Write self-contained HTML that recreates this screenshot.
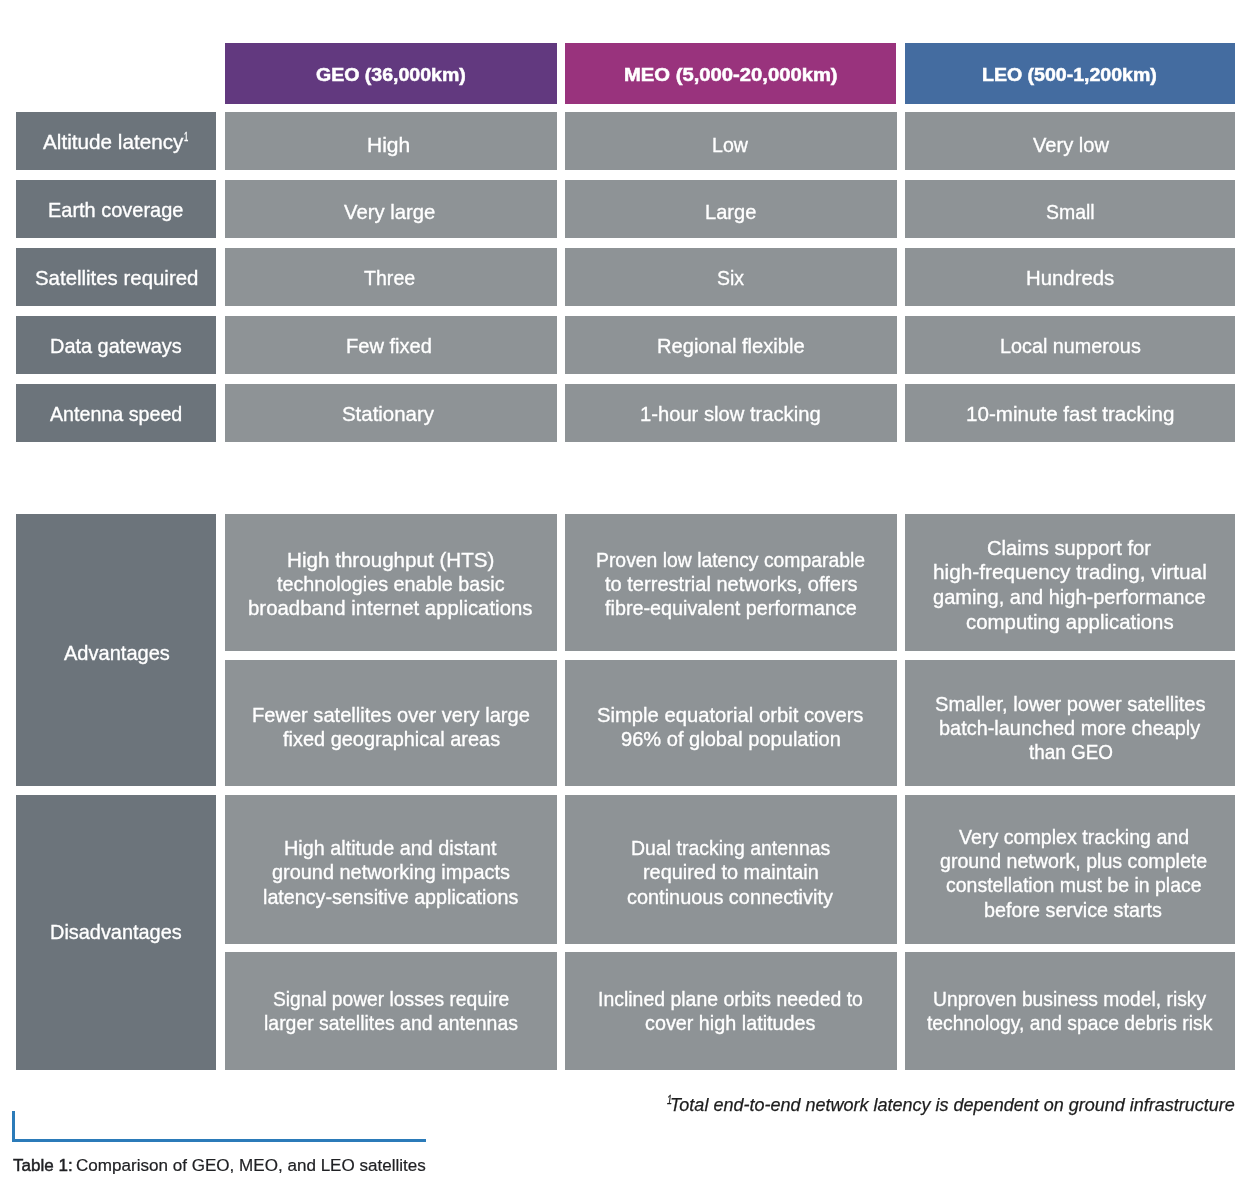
<!DOCTYPE html>
<html lang="en">
<head>
<meta charset="utf-8">
<title>Table 1: Comparison of GEO, MEO, and LEO satellites</title>
<style>
html,body{margin:0;padding:0;background:#fff;}
body{width:1258px;height:1188px;position:relative;overflow:hidden;font-family:"Liberation Sans",Arial,Helvetica,sans-serif;color:#fff;}
.box{position:absolute;}
.hdr.geo{background:#62397f;}
.hdr.meo{background:#99337d;}
.hdr.leo{background:#446ca0;}
.lab{background:#6c747b;}
.cell{background:#8e9396;}
.cell .t,.lab .t{-webkit-text-stroke:0.35px #fff;}
.hdr .t{-webkit-text-stroke:0.5px #fff;}
.t{position:absolute;white-space:nowrap;transform-origin:0 0;display:block;}
#rule{position:absolute;left:12px;top:1111px;width:411px;height:28px;border-left:3px solid #2b7bb9;border-bottom:3px solid #2b7bb9;}
</style>
</head>
<body>

<div class="box hdr geo" id="h-geo" style="left:225px;top:43px;width:332px;height:61px">
  <span class="t" style="left:91.39px;top:21.50px;font-size:17.5px;line-height:21.0px;transform:scaleX(1.1161);font-weight:700;">GEO (36,000km)</span>
</div>
<div class="box hdr meo" id="h-meo" style="left:565px;top:43px;width:331.2px;height:61px">
  <span class="t" style="left:58.94px;top:21.50px;font-size:17.5px;line-height:21.0px;transform:scaleX(1.1557);font-weight:700;">MEO (5,000-20,000km)</span>
</div>
<div class="box hdr leo" id="h-leo" style="left:905px;top:43px;width:330px;height:61px">
  <span class="t" style="left:77.38px;top:21.50px;font-size:17.5px;line-height:21.0px;transform:scaleX(1.1164);font-weight:700;">LEO (500-1,200km)</span>
</div>
<div class="box lab" id="r1-lab" style="left:16px;top:112px;width:200px;height:58px">
  <span class="t" style="left:27.30px;top:16.90px;font-size:21px;line-height:25.2px;transform:scaleX(0.9858);">Altitude latency</span>
  <span class="t" style="left:168.22px;top:16.80px;font-size:13px;line-height:15.6px;transform:scaleX(0.5942);">1</span>
</div>
<div class="box cell" id="r1-geo" style="left:225px;top:112px;width:332px;height:58px">
  <span class="t" style="left:142.16px;top:19.50px;font-size:21px;line-height:25.2px;transform:scaleX(1.0008);">High</span>
</div>
<div class="box cell" id="r1-meo" style="left:565px;top:112px;width:331.5px;height:58px">
  <span class="t" style="left:146.77px;top:19.50px;font-size:21px;line-height:25.2px;transform:scaleX(0.9316);">Low</span>
</div>
<div class="box cell" id="r1-leo" style="left:905px;top:112px;width:330px;height:58px">
  <span class="t" style="left:127.50px;top:19.50px;font-size:21px;line-height:25.2px;transform:scaleX(0.9570);">Very low</span>
</div>
<div class="box lab" id="r2-lab" style="left:16px;top:180px;width:200px;height:58px">
  <span class="t" style="left:31.94px;top:16.50px;font-size:21px;line-height:25.2px;transform:scaleX(0.9505);">Earth coverage</span>
</div>
<div class="box cell" id="r2-geo" style="left:225px;top:180px;width:332px;height:58px">
  <span class="t" style="left:118.80px;top:19.40px;font-size:21px;line-height:25.2px;transform:scaleX(0.9658);">Very large</span>
</div>
<div class="box cell" id="r2-meo" style="left:565px;top:180px;width:331.5px;height:58px">
  <span class="t" style="left:140.13px;top:19.40px;font-size:21px;line-height:25.2px;transform:scaleX(0.9547);">Large</span>
</div>
<div class="box cell" id="r2-leo" style="left:905px;top:180px;width:330px;height:58px">
  <span class="t" style="left:141.09px;top:19.40px;font-size:21px;line-height:25.2px;transform:scaleX(0.9253);">Small</span>
</div>
<div class="box lab" id="r3-lab" style="left:16px;top:248px;width:200px;height:58px">
  <span class="t" style="left:18.66px;top:17.30px;font-size:21px;line-height:25.2px;transform:scaleX(0.9720);">Satellites required</span>
</div>
<div class="box cell" id="r3-geo" style="left:225px;top:248px;width:332px;height:58px">
  <span class="t" style="left:139.09px;top:17.30px;font-size:21px;line-height:25.2px;transform:scaleX(0.9333);">Three</span>
</div>
<div class="box cell" id="r3-meo" style="left:565px;top:248px;width:331.5px;height:58px">
  <span class="t" style="left:151.89px;top:17.30px;font-size:21px;line-height:25.2px;transform:scaleX(0.9258);">Six</span>
</div>
<div class="box cell" id="r3-leo" style="left:905px;top:248px;width:330px;height:58px">
  <span class="t" style="left:120.91px;top:17.30px;font-size:21px;line-height:25.2px;transform:scaleX(0.9689);">Hundreds</span>
</div>
<div class="box lab" id="r4-lab" style="left:16px;top:316px;width:200px;height:58px">
  <span class="t" style="left:34.24px;top:17.20px;font-size:21px;line-height:25.2px;transform:scaleX(0.9487);">Data gateways</span>
</div>
<div class="box cell" id="r4-geo" style="left:225px;top:316px;width:332px;height:58px">
  <span class="t" style="left:121.13px;top:17.20px;font-size:21px;line-height:25.2px;transform:scaleX(0.9558);">Few fixed</span>
</div>
<div class="box cell" id="r4-meo" style="left:565px;top:316px;width:331.5px;height:58px">
  <span class="t" style="left:92.13px;top:17.20px;font-size:21px;line-height:25.2px;transform:scaleX(0.9578);">Regional flexible</span>
</div>
<div class="box cell" id="r4-leo" style="left:905px;top:316px;width:330px;height:58px">
  <span class="t" style="left:94.75px;top:17.20px;font-size:21px;line-height:25.2px;transform:scaleX(0.9421);">Local numerous</span>
</div>
<div class="box lab" id="r5-lab" style="left:16px;top:384px;width:200px;height:58px">
  <span class="t" style="left:34.40px;top:16.80px;font-size:21px;line-height:25.2px;transform:scaleX(0.9364);">Antenna speed</span>
</div>
<div class="box cell" id="r5-geo" style="left:225px;top:384px;width:332px;height:58px">
  <span class="t" style="left:117.36px;top:16.80px;font-size:21px;line-height:25.2px;transform:scaleX(0.9724);">Stationary</span>
</div>
<div class="box cell" id="r5-meo" style="left:565px;top:384px;width:331.5px;height:58px">
  <span class="t" style="left:75.24px;top:16.80px;font-size:21px;line-height:25.2px;transform:scaleX(0.9611);">1-hour slow tracking</span>
</div>
<div class="box cell" id="r5-leo" style="left:905px;top:384px;width:330px;height:58px">
  <span class="t" style="left:60.71px;top:16.80px;font-size:21px;line-height:25.2px;transform:scaleX(0.9808);">10-minute fast tracking</span>
</div>
<div class="box lab" id="adv-lab" style="left:16px;top:514px;width:200px;height:272px">
  <span class="t" style="left:47.70px;top:126.40px;font-size:21px;line-height:25.2px;transform:scaleX(0.9541);">Advantages</span>
</div>
<div class="box lab" id="dis-lab" style="left:16px;top:795px;width:200px;height:275px">
  <span class="t" style="left:34.24px;top:123.60px;font-size:21px;line-height:25.2px;transform:scaleX(0.9479);">Disadvantages</span>
</div>
<div class="box cell" id="a1-geo" style="left:225px;top:514px;width:332px;height:137px">
  <span class="t" style="left:62.29px;top:32.70px;font-size:21px;line-height:25.2px;transform:scaleX(0.9821);">High throughput (HTS)</span>
  <span class="t" style="left:52.00px;top:56.85px;font-size:21px;line-height:25.2px;transform:scaleX(0.9414);">technologies enable basic</span>
  <span class="t" style="left:23.03px;top:81.00px;font-size:21px;line-height:25.2px;transform:scaleX(0.9709);">broadband internet applications</span>
</div>
<div class="box cell" id="a1-meo" style="left:565px;top:514px;width:331.5px;height:137px">
  <span class="t" style="left:30.69px;top:32.70px;font-size:21px;line-height:25.2px;transform:scaleX(0.9221);">Proven low latency comparable</span>
  <span class="t" style="left:39.60px;top:56.85px;font-size:21px;line-height:25.2px;transform:scaleX(0.9550);">to terrestrial networks, offers</span>
  <span class="t" style="left:40.10px;top:81.00px;font-size:21px;line-height:25.2px;transform:scaleX(0.9420);">fibre-equivalent performance</span>
</div>
<div class="box cell" id="a1-leo" style="left:905px;top:514px;width:330px;height:137px">
  <span class="t" style="left:82.05px;top:20.70px;font-size:21px;line-height:25.2px;transform:scaleX(0.9628);">Claims support for</span>
  <span class="t" style="left:27.70px;top:45.40px;font-size:21px;line-height:25.2px;transform:scaleX(0.9896);">high-frequency trading, virtual</span>
  <span class="t" style="left:28.37px;top:70.10px;font-size:21px;line-height:25.2px;transform:scaleX(0.9529);">gaming, and high-performance</span>
  <span class="t" style="left:60.86px;top:94.80px;font-size:21px;line-height:25.2px;transform:scaleX(0.9721);">computing applications</span>
</div>
<div class="box cell" id="a2-geo" style="left:225px;top:660px;width:332px;height:126px">
  <span class="t" style="left:27.23px;top:41.70px;font-size:21px;line-height:25.2px;transform:scaleX(0.9562);">Fewer satellites over very large</span>
  <span class="t" style="left:58.00px;top:65.80px;font-size:21px;line-height:25.2px;transform:scaleX(0.9489);">fixed geographical areas</span>
</div>
<div class="box cell" id="a2-meo" style="left:565px;top:660px;width:331.5px;height:126px">
  <span class="t" style="left:32.37px;top:41.70px;font-size:21px;line-height:25.2px;transform:scaleX(0.9633);">Simple equatorial orbit covers</span>
  <span class="t" style="left:55.76px;top:65.80px;font-size:21px;line-height:25.2px;transform:scaleX(0.9559);">96% of global population</span>
</div>
<div class="box cell" id="a2-leo" style="left:905px;top:660px;width:330px;height:126px">
  <span class="t" style="left:29.77px;top:31.00px;font-size:21px;line-height:25.2px;transform:scaleX(0.9576);">Smaller, lower power satellites</span>
  <span class="t" style="left:33.56px;top:55.15px;font-size:21px;line-height:25.2px;transform:scaleX(0.9482);">batch-launched more cheaply</span>
  <span class="t" style="left:123.50px;top:79.30px;font-size:21px;line-height:25.2px;transform:scaleX(0.8998);">than GEO</span>
</div>
<div class="box cell" id="d1-geo" style="left:225px;top:795px;width:332px;height:149px">
  <span class="t" style="left:58.65px;top:39.60px;font-size:21px;line-height:25.2px;transform:scaleX(0.9435);">High altitude and distant</span>
  <span class="t" style="left:46.88px;top:64.20px;font-size:21px;line-height:25.2px;transform:scaleX(0.9481);">ground networking impacts</span>
  <span class="t" style="left:38.37px;top:88.80px;font-size:21px;line-height:25.2px;transform:scaleX(0.9385);">latency-sensitive applications</span>
</div>
<div class="box cell" id="d1-meo" style="left:565px;top:795px;width:331.5px;height:149px">
  <span class="t" style="left:65.78px;top:39.60px;font-size:21px;line-height:25.2px;transform:scaleX(0.9280);">Dual tracking antennas</span>
  <span class="t" style="left:77.96px;top:64.20px;font-size:21px;line-height:25.2px;transform:scaleX(0.9469);">required to maintain</span>
  <span class="t" style="left:61.98px;top:88.80px;font-size:21px;line-height:25.2px;transform:scaleX(0.9484);">continuous connectivity</span>
</div>
<div class="box cell" id="d1-leo" style="left:905px;top:795px;width:330px;height:149px">
  <span class="t" style="left:54.10px;top:28.50px;font-size:21px;line-height:25.2px;transform:scaleX(0.9347);">Very complex tracking and</span>
  <span class="t" style="left:34.99px;top:52.87px;font-size:21px;line-height:25.2px;transform:scaleX(0.9343);">ground network, plus complete</span>
  <span class="t" style="left:40.79px;top:77.24px;font-size:21px;line-height:25.2px;transform:scaleX(0.9278);">constellation must be in place</span>
  <span class="t" style="left:79.27px;top:101.61px;font-size:21px;line-height:25.2px;transform:scaleX(0.9407);">before service starts</span>
</div>
<div class="box cell" id="d2-geo" style="left:225px;top:952px;width:332px;height:118px">
  <span class="t" style="left:47.70px;top:33.50px;font-size:21px;line-height:25.2px;transform:scaleX(0.9159);">Signal power losses require</span>
  <span class="t" style="left:38.89px;top:57.50px;font-size:21px;line-height:25.2px;transform:scaleX(0.9256);">larger satellites and antennas</span>
</div>
<div class="box cell" id="d2-meo" style="left:565px;top:952px;width:331.5px;height:118px">
  <span class="t" style="left:33.28px;top:33.50px;font-size:21px;line-height:25.2px;transform:scaleX(0.9261);">Inclined plane orbits needed to</span>
  <span class="t" style="left:80.38px;top:57.50px;font-size:21px;line-height:25.2px;transform:scaleX(0.9419);">cover high latitudes</span>
</div>
<div class="box cell" id="d2-leo" style="left:905px;top:952px;width:330px;height:118px">
  <span class="t" style="left:27.80px;top:33.50px;font-size:21px;line-height:25.2px;transform:scaleX(0.9176);">Unproven business model, risky</span>
  <span class="t" style="left:22.40px;top:57.50px;font-size:21px;line-height:25.2px;transform:scaleX(0.9200);">technology, and space debris risk</span>
</div>
<div id="footnote">
  <span class="t" id="fn-sup" style="left:666.68px;top:1092.50px;font-size:12px;line-height:14.4px;transform:scaleX(0.7407);font-style:italic;color:#1d1d1d;-webkit-text-stroke:0.3px currentColor;">1</span>
  <span class="t" id="fn" style="left:670.49px;top:1093.62px;font-size:18.8px;line-height:22.56px;transform:scaleX(0.9587);font-style:italic;color:#1d1d1d;-webkit-text-stroke:0.25px currentColor;">Total end-to-end network latency is dependent on ground infrastructure</span>
</div>
<div id="rule"></div>
<div id="caption">
  <span class="t" id="cap-b" style="left:12.93px;top:1154.58px;font-size:17.2px;line-height:20.64px;transform:scaleX(0.9911);color:#202124;-webkit-text-stroke:0.45px currentColor;">Table 1:</span>
  <span class="t" id="cap" style="left:76.40px;top:1154.58px;font-size:17.2px;line-height:20.64px;transform:scaleX(0.9926);color:#202124;-webkit-text-stroke:0.2px currentColor;">Comparison of GEO, MEO, and LEO satellites</span>
</div>
</body>
</html>
